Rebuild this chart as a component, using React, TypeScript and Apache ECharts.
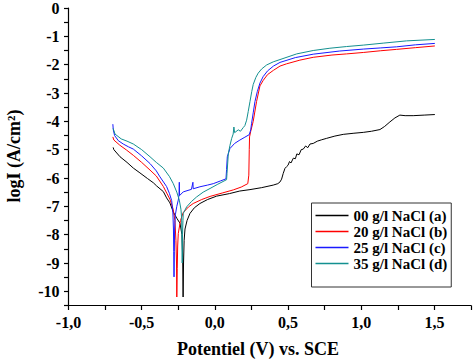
import React, { useEffect, useRef } from "react";
import * as echarts from "echarts";

const seriesNames = ["00 g/l NaCl (a)", "20 g/l NaCl (b)", "25 g/l NaCl (c)", "35 g/l NaCl (d)"];

const curveA: [number, number][] = [
  [-0.695, -4.92], [-0.69, -5.0], [-0.648, -5.25], [-0.6, -5.45], [-0.557, -5.65], [-0.512, -5.82],
  [-0.46, -6.02], [-0.42, -6.17], [-0.398, -6.28], [-0.352, -6.48], [-0.33, -6.7], [-0.307, -6.88],
  [-0.284, -7.2], [-0.26, -7.42], [-0.238, -7.6], [-0.225, -8.0], [-0.22, -8.8], [-0.217, -10.2],
  [-0.214, -9.0], [-0.21, -8.2], [-0.204, -7.8], [-0.19, -7.5], [-0.17, -7.25], [-0.14, -7.05],
  [-0.102, -6.9], [-0.05, -6.76], [0.012, -6.64], [0.1, -6.55], [0.17, -6.46], [0.24, -6.41],
  [0.32, -6.34], [0.399, -6.25], [0.43, -6.2], [0.445, -6.14], [0.456, -6.04], [0.467, -5.84],
  [0.479, -5.66], [0.49, -5.6], [0.5, -5.55], [0.51, -5.42], [0.52, -5.47], [0.536, -5.3],
  [0.55, -5.32], [0.56, -5.15], [0.575, -5.18], [0.59, -5.0], [0.604, -4.98], [0.62, -4.87],
  [0.635, -4.93], [0.65, -4.8], [0.672, -4.78], [0.7, -4.7], [0.73, -4.65], [0.764, -4.6],
  [0.82, -4.52], [0.877, -4.46], [0.95, -4.42], [1.014, -4.39], [1.07, -4.35], [1.128, -4.29],
  [1.16, -4.18], [1.196, -4.02], [1.23, -3.88], [1.264, -3.78], [1.3, -3.8], [1.355, -3.8],
  [1.43, -3.78], [1.503, -3.76],
];

const curveB: [number, number][] = [
  [-0.697, -4.55], [-0.69, -4.66], [-0.65, -4.84], [-0.602, -5.02], [-0.557, -5.2], [-0.5, -5.45],
  [-0.443, -5.72], [-0.4, -5.93], [-0.352, -6.3], [-0.307, -6.75], [-0.285, -7.1], [-0.273, -7.5],
  [-0.266, -8.2], [-0.262, -9.0], [-0.26, -10.2], [-0.257, -9.2], [-0.254, -8.4], [-0.25, -7.96],
  [-0.235, -7.5], [-0.216, -7.22], [-0.18, -7.02], [-0.148, -6.9], [-0.09, -6.76], [-0.033, -6.65],
  [0.05, -6.53], [0.126, -6.42], [0.18, -6.32], [0.206, -6.25], [0.225, -6.2], [0.232, -5.9],
  [0.235, -5.0], [0.237, -4.55], [0.245, -4.35], [0.262, -4.0], [0.285, -3.3], [0.308, -2.75],
  [0.331, -2.55], [0.36, -2.35], [0.4, -2.2], [0.445, -2.05], [0.49, -1.97], [0.581, -1.84],
  [0.672, -1.74], [0.8, -1.66], [0.9, -1.62], [1.014, -1.57], [1.13, -1.51], [1.242, -1.46],
  [1.37, -1.4], [1.503, -1.34],
];

const curveC: [number, number][] = [
  [-0.697, -4.1], [-0.694, -4.3], [-0.685, -4.5], [-0.66, -4.68], [-0.626, -4.8], [-0.59, -4.9],
  [-0.557, -4.98], [-0.5, -5.22], [-0.443, -5.49], [-0.4, -5.75], [-0.375, -5.96], [-0.33, -6.3],
  [-0.31, -6.55], [-0.295, -6.8], [-0.287, -7.2], [-0.283, -7.8], [-0.281, -8.6], [-0.279, -9.49],
  [-0.277, -8.6], [-0.275, -7.8], [-0.27, -7.3], [-0.26, -7.0], [-0.25, -6.78], [-0.245, -6.6],
  [-0.243, -6.15], [-0.241, -6.62], [-0.216, -6.49], [-0.16, -6.4], [-0.15, -6.15], [-0.148, -6.38],
  [-0.102, -6.31], [-0.05, -6.25], [-0.011, -6.2], [0.04, -6.1], [0.076, -6.03], [0.08, -5.7],
  [0.085, -5.25], [0.103, -4.96], [0.135, -4.78], [0.171, -4.66], [0.205, -4.56], [0.235, -4.47],
  [0.245, -4.3], [0.251, -4.07], [0.262, -3.7], [0.274, -3.3], [0.29, -2.95], [0.308, -2.65],
  [0.33, -2.42], [0.36, -2.22], [0.4, -2.05], [0.445, -1.92], [0.55, -1.75], [0.672, -1.63],
  [0.85, -1.52], [1.014, -1.45], [1.13, -1.41], [1.242, -1.37], [1.37, -1.3], [1.503, -1.25],
];

const curveD: [number, number][] = [
  [-0.695, -4.25], [-0.682, -4.45], [-0.64, -4.62], [-0.6, -4.7], [-0.557, -4.8], [-0.5, -5.0],
  [-0.443, -5.25], [-0.4, -5.45], [-0.352, -5.65], [-0.31, -5.95], [-0.284, -6.2], [-0.26, -6.5],
  [-0.243, -6.78], [-0.232, -7.1], [-0.227, -7.4], [-0.225, -8.0], [-0.223, -9.0], [-0.221, -8.0],
  [-0.218, -7.5], [-0.216, -7.25], [-0.193, -7.02], [-0.16, -6.83], [-0.125, -6.67], [-0.08, -6.5],
  [-0.033, -6.37], [0.02, -6.22], [0.08, -6.06], [0.083, -5.84], [0.092, -5.14], [0.103, -4.85],
  [0.115, -4.6], [0.125, -4.45], [0.13, -4.2], [0.135, -4.4], [0.16, -4.3], [0.175, -4.35],
  [0.194, -4.22], [0.205, -4.15], [0.217, -3.96], [0.228, -3.65], [0.24, -3.3], [0.252, -2.95],
  [0.262, -2.7], [0.28, -2.45], [0.296, -2.3], [0.32, -2.15], [0.354, -2.01], [0.399, -1.9],
  [0.445, -1.82], [0.559, -1.62], [0.672, -1.5], [0.786, -1.42], [0.9, -1.36], [1.014, -1.31],
  [1.15, -1.24], [1.31, -1.16], [1.503, -1.11],
];

const curves = [curveA, curveB, curveC, curveD];
const colors = ["#000000", "#ff0000", "#1a1aff", "#139090"];

const xTitle = "Potentiel (V) vs. SCE";
const yTitle = "logI (A/cm²)";

const FONT = "Liberation Serif";

const tickRich = {
  t: { fontFamily: FONT, fontWeight: "bold", fontSize: 16, color: "#000" },
};

export default function App() {
  const ref = useRef<HTMLDivElement>(null);
  useEffect(() => {
    if (!ref.current) return;
    const chart = echarts.init(ref.current, undefined, { renderer: "svg" });
    chart.setOption({
      animation: false,
      backgroundColor: "#ffffff",
      textStyle: { fontFamily: FONT },
      grid: { left: 68.5, right: 2.5, top: 8, bottom: 56.5, containLabel: false },
      xAxis: {
        type: "value",
        min: -1.0,
        max: 1.75,
        interval: 0.25,
        splitLine: { show: false },
        axisLine: { onZero: false, lineStyle: { color: "#000", width: 1.2 } },
        axisTick: { show: true, inside: false, length: 4.5, lineStyle: { color: "#000", width: 1.2 } },
        axisLabel: {
          margin: 9,
          color: "#000",
          fontFamily: FONT,
          fontWeight: "bold",
          fontSize: 16,
          showMaxLabel: true,
          showMinLabel: true,
          rich: tickRich,
          formatter: (v: number) => {
            const d = v * 2;
            if (Math.abs(d - Math.round(d)) > 1e-6) return "";
            return "{t|" + v.toFixed(1).replace(".", ",") + "}";
          },
        },
      },
      yAxis: {
        type: "value",
        min: -10.5,
        max: 0,
        interval: 0.5,
        splitLine: { show: false },
        axisLine: { onZero: false, lineStyle: { color: "#000", width: 1.2 } },
        axisTick: { show: true, inside: false, length: 4.5, lineStyle: { color: "#000", width: 1.2 } },
        axisLabel: {
          margin: 9,
          color: "#000",
          fontFamily: FONT,
          fontWeight: "bold",
          fontSize: 16,
          showMaxLabel: true,
          showMinLabel: true,
          rich: tickRich,
          formatter: (v: number) => {
            if (Math.abs(v - Math.round(v)) > 1e-6) return "";
            return "{t|" + String(Math.round(v)) + "}";
          },
        },
      },
      legend: {
        show: true,
        orient: "vertical",
        left: 311.5,
        top: 203,
        backgroundColor: "#fff",
        borderColor: "#333",
        borderWidth: 1,
        padding: [5, 4, 16, 4],
        itemWidth: 33,
        itemHeight: 1.3,
        itemGap: 1,
        icon: "rect",
        textStyle: { fontFamily: FONT, fontWeight: "bold", fontSize: 15, color: "#000", lineHeight: 15 },
        data: seriesNames,
      },
      graphic: [
        {
          type: "text",
          x: 258,
          y: 349,
          style: {
            text: xTitle,
            fontFamily: FONT,
            fontWeight: "bold",
            fontSize: 18,
            fill: "#000",
            textAlign: "center",
            textVerticalAlign: "middle",
          },
        },
        {
          type: "text",
          x: 14,
          y: 156,
          rotation: Math.PI / 2,
          style: {
            text: yTitle,
            fontFamily: FONT,
            fontWeight: "bold",
            fontSize: 18,
            fill: "#000",
            textAlign: "center",
            textVerticalAlign: "middle",
          },
        },
      ],
      series: curves.map((c, i) => ({
        name: seriesNames[i],
        type: "line",
        data: c,
        symbol: "none",
        showSymbol: false,
        lineStyle: { color: colors[i], width: 1 },
        itemStyle: { color: colors[i] },
        z: 2 + i,
      })),
    });
    return () => chart.dispose();
  }, []);
  return (
    <div
      ref={ref}
      style={{ position: "fixed", left: 0, top: 0, width: 474, height: 362, background: "#fff" }}
    />
  );
}
